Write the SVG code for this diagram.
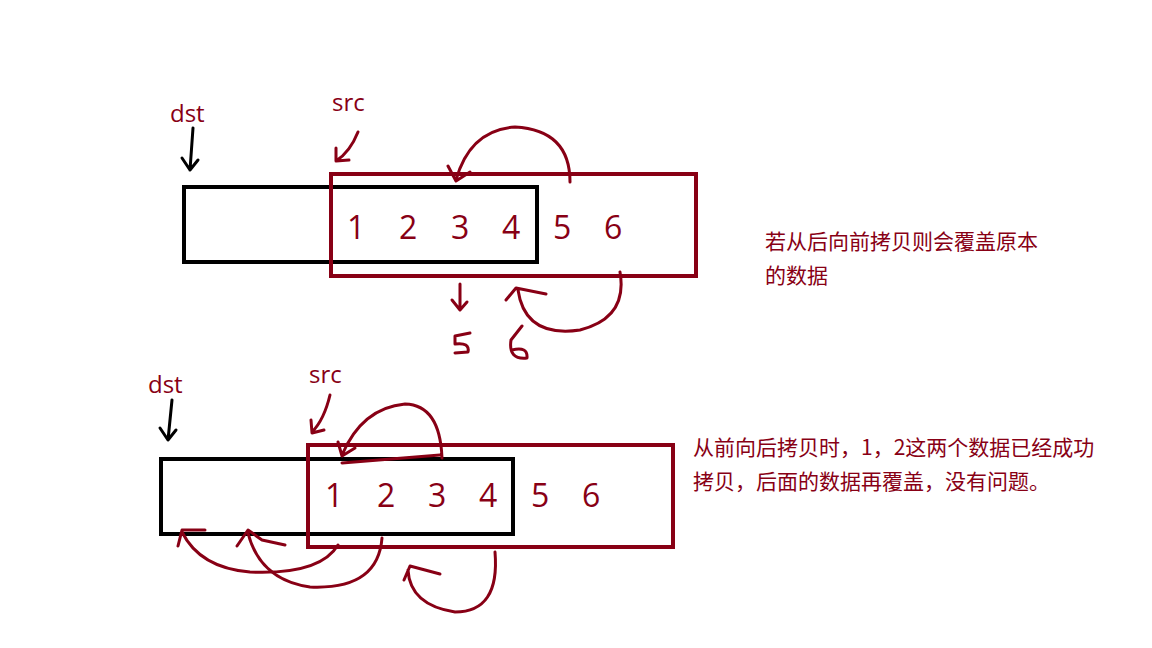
<svg xmlns="http://www.w3.org/2000/svg" width="1152" height="648" viewBox="0 0 1152 648">
<style>
.r{fill:none;stroke:#880015;stroke-width:4}
.b{fill:none;stroke:#000;stroke-width:4}
.rs{fill:none;stroke:#880015;stroke-width:3;stroke-linecap:round;stroke-linejoin:round}
.bs{fill:none;stroke:#000;stroke-width:3;stroke-linecap:round;stroke-linejoin:round}
.n{font-family:"Open Sans","DejaVu Sans",sans-serif;font-size:32px;fill:#880015}
.l{font-family:"Open Sans","DejaVu Sans",sans-serif;font-size:24px;fill:#880015}
.c{font-family:"Noto Sans CJK SC",sans-serif;font-size:21px;fill:#880015}
</style>
<rect width="1152" height="648" fill="#fff"/>
<g id="top">
<rect class="b" x="184" y="187" width="353" height="75"/>
<rect class="r" x="331" y="174" width="365" height="102"/>
<text class="n" x="347" y="239">1</text><text class="n" x="399" y="239">2</text><text class="n" x="451" y="239">3</text><text class="n" x="502" y="239">4</text><text class="n" x="553" y="239">5</text><text class="n" x="604" y="239">6</text>
<text class="l" x="170" y="122">dst</text><text class="l" x="332" y="111">src</text>
<path class="bs" d="M193 128 L190 170 M182 158 L190 170 L198 160"/>
<path class="rs" d="M358 132 Q350 152 336 161 M336 148 L336 161 L349 160"/>
<path class="rs" d="M570 182 Q570 130 515 127 Q470 130 456 180 M448 166 L456 181 L470 172"/>
<path class="rs" d="M460 284 L460 308 M452 300 L460 310 L467 302"/>
<path class="rs" d="M470 333 L455 336 L455 344 Q470 342 468 352 L455 353"/>
<path class="rs" d="M620 272 Q628 318 580 330 Q525 338 518 290 M506 300 L516 288 L546 294"/>
<path class="rs" d="M522 326 L511 340 Q508 360 527 358 Q528 346 512 350"/>
<text class="c" x="765" y="249">若从后向前拷贝则会覆盖原本</text>
<text class="c" x="765" y="283">的数据</text>
</g>
<g id="bottom">
<rect class="b" x="161" y="459" width="352" height="75"/>
<rect class="r" x="308" y="445" width="365" height="102"/>
<text class="n" x="325" y="507">1</text><text class="n" x="377" y="507">2</text><text class="n" x="428" y="507">3</text><text class="n" x="479" y="507">4</text><text class="n" x="531" y="507">5</text><text class="n" x="582" y="507">6</text>
<text class="l" x="148" y="393">dst</text><text class="l" x="309" y="383">src</text>
<path class="bs" d="M172 400 L168 440 M160 428 L168 440 L176 430"/>
<path class="rs" d="M330 395 Q324 420 312 432 M311 420 L312 433 L324 430"/>
<path class="rs" d="M442 458 Q440 405 405 404 Q362 408 342 455 M338 442 L342 456 L355 448 M342 463 L440 455"/>
<path class="rs" d="M338 545 Q320 575 250 572 Q200 568 182 532 M178 546 L182 530 L205 530"/>
<path class="rs" d="M382 538 Q378 590 310 587 Q260 580 248 533 M237 546 L248 530 L262 540 M262 540 L285 545"/>
<path class="rs" d="M495 552 Q500 612 455 612 Q410 605 408 570 M404 580 L410 566 L440 574"/>
<text class="c" x="693" y="455">从前向后拷贝时，1，2这两个数据已经成功</text>
<text class="c" x="693" y="489">拷贝，后面的数据再覆盖，没有问题。</text>
</g>
</svg>
